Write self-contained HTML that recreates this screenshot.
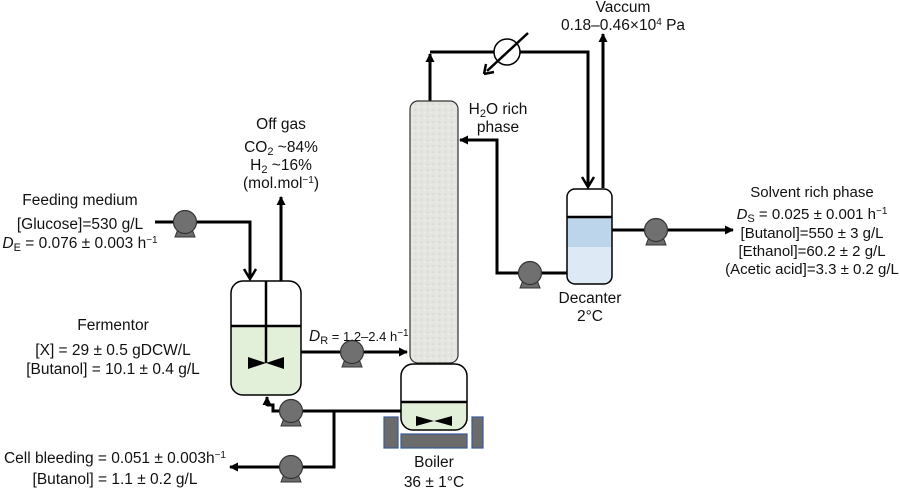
<!DOCTYPE html>
<html><head><meta charset="utf-8"><style>
html,body{margin:0;padding:0;background:#fff}
svg{display:block}
text{font-family:"Liberation Sans",sans-serif;font-size:15.5px;fill:#111}
.m{text-anchor:middle}
.r{font-size:15px}
</style></head><body>
<svg width="900" height="492" viewBox="0 0 900 492" xmlns="http://www.w3.org/2000/svg">
<defs>
<marker id="a" markerWidth="9" markerHeight="9" refX="8" refY="4.5" orient="auto" markerUnits="userSpaceOnUse"><path d="M0,0 L9,4.5 L0,9 Z" fill="#000"/></marker>
<marker id="v" markerWidth="14" markerHeight="14" refX="12" refY="7" orient="auto" markerUnits="userSpaceOnUse"><path d="M2,1 L12,7 L2,13" fill="none" stroke="#000" stroke-width="2.5"/></marker>
<pattern id="sp" width="6" height="6" patternUnits="userSpaceOnUse"><rect width="6" height="6" fill="#e4e4e0"/><circle cx="1.5" cy="2" r="0.8" fill="#cfcfcb"/><circle cx="4.5" cy="4.5" r="0.7" fill="#f2f2f0"/></pattern>
<g id="pump"><path d="M-10,15 L10,15 L7,7 L-7,7 Z" fill="#6b6b6b" stroke="#333" stroke-width="1"/><circle r="11.5" fill="#707070" stroke="#333" stroke-width="1.2"/></g>
</defs>
<g fill="none" stroke="#000" stroke-width="3">
<polyline points="155,222 250,222 250,279" marker-end="url(#v)"/>
<line x1="281" y1="281" x2="281" y2="197" marker-end="url(#a)"/>
<line x1="301" y1="352" x2="407" y2="352" marker-end="url(#a)"/>
<polyline points="401,411 273,411 273,405 267,405"/>
<line x1="267" y1="406" x2="267" y2="397" marker-end="url(#a)"/>
<polyline points="334,411 334,467 230,467" marker-end="url(#a)"/>
<line x1="430" y1="103" x2="430" y2="54" marker-end="url(#a)"/>
<polyline points="430,52 588,52 588,187" marker-end="url(#v)"/>
<line x1="603" y1="188" x2="603" y2="34" marker-end="url(#a)"/>
<polyline points="567,273 497,273 497,140 460,140" marker-end="url(#a)"/>
<line x1="612" y1="230" x2="733" y2="230" marker-end="url(#a)"/>
</g>
<circle cx="507" cy="52" r="13" fill="#fff" stroke="#000" stroke-width="1.5"/>
<line x1="528" y1="33" x2="487" y2="71" stroke="#000" stroke-width="2.5"/>
<path d="M484,74 L486,64 M484,74 L494,72" stroke="#000" stroke-width="2.5" fill="none"/>
<path d="M231,326 L301,326 L301,383 Q301,395 289,395 L243,395 Q231,395 231,383 Z" fill="#e2efd9"/>
<rect x="231" y="281" width="70" height="114" rx="12" fill="none" stroke="#000" stroke-width="1.5"/>
<line x1="231" y1="326" x2="301" y2="326" stroke="#000" stroke-width="2.5"/>
<line x1="266" y1="281" x2="266" y2="363" stroke="#000" stroke-width="2.5"/>
<path d="M248,357 L266,363 L248,369 Z M284,357 L266,363 L284,369 Z" fill="#000"/>
<rect x="410" y="101" width="48" height="262" rx="8" fill="url(#sp)" stroke="#333" stroke-width="1.2"/>
<g fill="#6b6b6b" stroke="#3a5a9a" stroke-width="1.2">
<rect x="384" y="417" width="14" height="31"/><rect x="472" y="417" width="11" height="31"/><rect x="401" y="434" width="66" height="14"/>
</g>
<path d="M401,402 L467,402 L467,418 Q467,430 455,430 L413,430 Q401,430 401,418 Z" fill="#e2efd9"/>
<rect x="401" y="364" width="66" height="66" rx="12" fill="none" stroke="#000" stroke-width="1.5"/>
<line x1="401" y1="402" x2="467" y2="402" stroke="#000" stroke-width="2.5"/>
<path d="M416,416 L434,421 L416,426 Z M452,416 L434,421 L452,426 Z" fill="#000"/>
<rect x="567" y="217" width="45" height="30" fill="#bcd5ea"/>
<path d="M567,247 L612,247 L612,276 Q612,284 604,284 L575,284 Q567,284 567,276 Z" fill="#dde9f5"/>
<rect x="567" y="189" width="45" height="95" rx="8" fill="none" stroke="#000" stroke-width="1.5"/>
<line x1="567" y1="217" x2="612" y2="217" stroke="#000" stroke-width="2.5"/>
<use href="#pump" x="185" y="222"/>
<use href="#pump" x="352" y="352"/>
<use href="#pump" x="291" y="411"/>
<use href="#pump" x="291" y="467"/>
<use href="#pump" x="530" y="273"/>
<use href="#pump" x="656" y="230"/>
<text x="80" y="205" class="m">Feeding medium</text>
<text x="80" y="229" class="m">[Glucose]=530 g/L</text>
<text x="80" y="248" class="m"><tspan font-style="italic">D</tspan><tspan font-size="11" dy="3">E</tspan><tspan dy="-3"> = 0.076 ±  0.003 h</tspan><tspan font-size="10" dy="-5">−1</tspan></text>
<text x="281" y="129" class="m">Off gas</text>
<text x="281" y="152" class="m">CO<tspan font-size="11" dy="3">2</tspan><tspan dy="-3"> ~84%</tspan></text>
<text x="281" y="170" class="m">H<tspan font-size="11" dy="3">2</tspan><tspan dy="-3"> ~16%</tspan></text>
<text x="281" y="188" class="m">(mol.mol<tspan font-size="10" dy="-5">−1</tspan><tspan dy="5">)</tspan></text>
<text x="113" y="330" class="m">Fermentor</text>
<text x="113" y="355" class="m">[X] = 29 ± 0.5 gDCW/L</text>
<text x="113" y="374" class="m">[Butanol] = 10.1 ± 0.4 g/L</text>
<text x="309" y="341"><tspan font-style="italic">D</tspan><tspan font-size="11" dy="3">R</tspan><tspan dy="-3" font-size="13"> = 1.2–2.4 h</tspan><tspan font-size="10" dy="-5">−1</tspan></text>
<text x="115" y="463" class="m">Cell bleeding = 0.051 ± 0.003h<tspan font-size="10" dy="-5">−1</tspan></text>
<text x="115" y="484" class="m">[Butanol] = 1.1 ± 0.2 g/L</text>
<text x="434" y="467" class="m">Boiler</text>
<text x="434" y="487" class="m">36 ± 1°C</text>
<text x="498" y="114" class="m">H<tspan font-size="11" dy="3">2</tspan><tspan dy="-3">O rich</tspan></text>
<text x="498" y="132" class="m">phase</text>
<text x="590" y="303" class="m">Decanter</text>
<text x="590" y="321" class="m">2°C</text>
<text x="623" y="12" class="m">Vaccum</text>
<text x="623" y="30" class="m">0.18–0.46×10<tspan font-size="10" dy="-5">4</tspan><tspan dy="5"> Pa</tspan></text>
<text x="812" y="197" class="m r">Solvent rich phase</text>
<text x="812" y="219" class="m r"><tspan font-style="italic">D</tspan><tspan font-size="11" dy="3">S</tspan><tspan dy="-3"> = 0.025 ± 0.001 h</tspan><tspan font-size="10" dy="-5">−1</tspan></text>
<text x="812" y="238" class="m r">[Butanol]=550 ± 3 g/L</text>
<text x="812" y="256" class="m r">[Ethanol]=60.2 ± 2 g/L</text>
<text x="812" y="274" class="m r">(Acetic acid]=3.3 ± 0.2 g/L</text>
</svg>
</body></html>
